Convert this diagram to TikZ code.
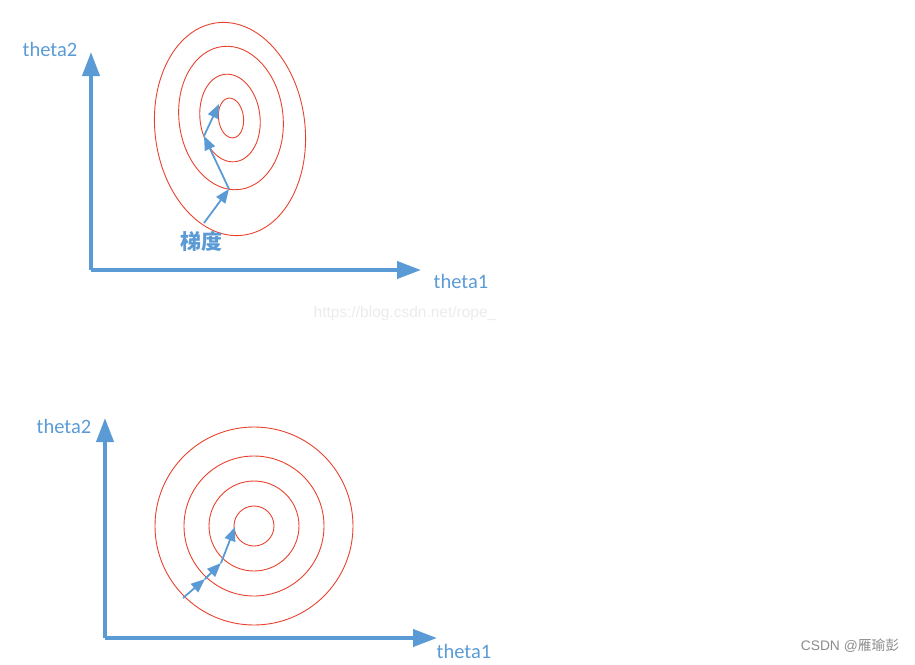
\documentclass[tikz,border=0pt]{standalone}
\usepackage{fontspec}
\setmainfont{Carlito}
\newfontfamily\cjkfont{Noto Sans CJK SC}
\newfontfamily\markfont{Liberation Sans}
\definecolor{AxisBlue}{RGB}{91, 155, 213}
\definecolor{ContourRed}{RGB}{232, 66, 46}
\usetikzlibrary{arrows.meta}

\begin{document}
\begin{tikzpicture}[x=1pt, y=-1pt]
        \tikzstyle{axis} = [line width=4pt, AxisBlue, -{Triangle[length=24pt, width=17pt]}]
        \tikzstyle{grad} = [line width=1.8pt, AxisBlue, -{Triangle[length=14pt, width=11pt]}]
        \tikzstyle{contour} = [line width=0.9pt, ContourRed]
        \tikzstyle{axislabel} = [font=\fontsize{20.5}{24}\selectfont, text=AxisBlue, inner sep=0pt]
        \tikzstyle{watermark} = [font=\markfont\fontsize{15.5}{18}\selectfont, inner sep=0pt]

        \useasboundingbox (0,0) rectangle (915,664);

        % Oben: Ellipsen
        \coordinate (o1) at (91,270);
        \coordinate (t2top) at (91,52);
        \coordinate (t1top) at (421,270);
        \draw [axis] (o1) -- (t2top);
        \draw [axis] (o1) -- (t1top);
        \node (lbl2top) [axislabel] at (50,49) {theta2};
        \node (lbl1top) [axislabel] at (461,281) {theta1};

        \draw [contour, rotate around={7:(230,129)}] (230,129) ellipse [x radius=75, y radius=107];
        \draw [contour, rotate around={7:(231,118)}] (231,118) ellipse [x radius=52, y radius=72];
        \draw [contour, rotate around={7:(230,118)}] (230,118) ellipse [x radius=30, y radius=44];
        \draw [contour, rotate around={7:(231,118)}] (231,118) ellipse [x radius=12.5, y radius=20];

        \coordinate (ga) at (204,223);
        \coordinate (gb) at (229,189);
        \coordinate (gc) at (204,136);
        \coordinate (gd) at (219,104);
        \draw [grad] (ga) -- (gb);
        \draw [grad] (gb) -- (gc);
        \draw [grad] (gc) -- (gd);
        \node (gradlbl) [font=\cjkfont\bfseries\fontsize{21}{24}\selectfont, text=AxisBlue, inner sep=0pt] at (201,241) {梯度};

        \node (url) [watermark, text=black!8] at (405,313) {https://blog.csdn.net/rope\_};

        % Unten: Kreise
        \coordinate (o2) at (105,638);
        \coordinate (t2bot) at (105,418);
        \coordinate (t1bot) at (437,638);
        \draw [axis] (o2) -- (t2bot);
        \draw [axis] (o2) -- (t1bot);
        \node (lbl2bot) [axislabel] at (64,426) {theta2};
        \node (lbl1bot) [axislabel] at (464,651) {theta1};

        \foreach \r in {99, 70, 45, 20}
            \draw [contour] (254,526) circle [radius=\r];

        \coordinate (ha) at (183,598);
        \coordinate (hb) at (205,579);
        \coordinate (hc) at (221,563);
        \coordinate (hd) at (235,527);
        \draw [grad] (ha) -- (hb);
        \draw [grad] (hb) -- (hc);
        \draw [grad] (hc) -- (hd);

        \node (csdn) [font=\markfont\fontsize{13.8}{16}\selectfont, inner sep=0pt, text=black!45] at (850,646) {CSDN @\cjkfont 雁瑜彭};
    \end{tikzpicture}
\end{document}
